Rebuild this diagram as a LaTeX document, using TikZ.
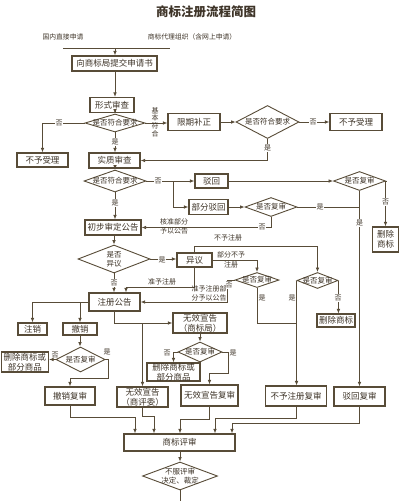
\documentclass[tikz,border=0pt]{standalone}
\usepackage{fontspec}
\newfontfamily\cjk{Noto Sans CJK SC}
\usetikzlibrary{arrows.meta,shapes.geometric}
\definecolor{lc}{RGB}{88,76,56}
\definecolor{tc}{RGB}{62,52,40}
\tikzset{
 box/.style={draw=lc, line width=1.1pt, fill=white, text=tc, inner sep=0pt, align=center, font=\cjk\fontsize{8.5}{10}\selectfont},
 dia/.style={diamond, draw=lc, line width=0.9pt, fill=white, inner sep=0pt},
 dtext/.style={text=tc, inner sep=0pt, align=center, font=\cjk\fontsize{7.5}{9}\selectfont},
 lab/.style={text=tc, inner sep=0.6pt, fill=white, align=center, font=\cjk\fontsize{7}{8.5}\selectfont},
 labn/.style={lab, fill=none},
 con/.style={draw=lc, line width=0.8pt},
 arr/.style={con, -{Latex[length=4.5pt,width=3.6pt]}},
}
\begin{document}
\begin{tikzpicture}[x=1pt,y=-1pt]
\path[use as bounding box, fill=white] (0,0) rectangle (400,501);

\node[font=\cjk\bfseries\fontsize{12.5}{14}\selectfont, text=tc] (title) at (206,12) {商标注册流程简图};
\node[font=\cjk\fontsize{6.8}{8}\selectfont, text=tc] (src1) at (63,37) {国内直接申请};
\node[font=\cjk\fontsize{6.8}{8}\selectfont, text=tc] (src2) at (192,37) {商标代理组织（含网上申请）};
\coordinate (hl) at (63,48); \coordinate (hr) at (170,48); \coordinate (hm) at (115,48);
\draw[con] (hl) -- (hr);
\node[box, minimum width=85, minimum height=15] (b1) at (114.5,63.5) {向商标局提交申请书};
\draw[arr] (hm) -- (hm |- b1.north);
\node[box, minimum width=44, minimum height=15] (b2) at (112,105) {形式审查};
\draw[arr] (hm |- b1.south) -- (hm |- b2.north);
\node[dia, minimum width=60, minimum height=18, label={[dtext]center:是否符合要求}] (d1) at (115,123) {};
\draw[arr] (hm |- b2.south) -- (d1.north);
\node[box, minimum width=51, minimum height=14] (n1) at (42.5,160) {不予受理};
\draw[arr] (d1.west) -| (n1.north);
\node[box, minimum width=52, minimum height=17] (r1) at (194,122) {限期补正};
\draw[arr] (d1.east) -- (d1.east -| r1.west);
\node[dia, minimum width=63, minimum height=33, label={[dtext]center:是否符合要求}] (d2) at (267.5,122) {};
\draw[arr] (r1.east) -- (d2.west);
\node[box, minimum width=52, minimum height=17] (n2) at (356,122) {不予受理};
\draw[arr] (d2.east) -- (n2.west);
\node[box, minimum width=51, minimum height=15] (b3) at (114.5,160.5) {实质审查};
\draw[arr] (d1.south) -- (d1.south |- b3.north);
\draw[arr] (d2.south) |- (b3.east);
\node[dia, minimum width=62, minimum height=22, label={[dtext]center:是否符合要求}] (d3) at (115,181) {};
\draw[arr] (d1.south |- b3.south) -- (d3.north);
\coordinate (j1) at (173,181);
\node[box, minimum width=33, minimum height=14] (r2) at (211.5,181) {驳回};
\draw[arr] (d3.east) -- (r2.west);
\node[box, minimum width=39, minimum height=15] (r3) at (208.5,207) {部分驳回};
\draw[arr] (j1) |- (r3.west);
\node[dia, minimum width=52, minimum height=19, label={[dtext]center:是否复审}] (d4) at (271,207) {};
\draw[arr] (r3.east) -- (d4.west);
\node[box, minimum width=56, minimum height=15] (b4) at (113,227.5) {初步审定公告};
\draw[arr] (d3.south) -- (d3.south |- b4.north);
\draw[arr] (d4.south) |- (b4.east);
\node[dia, minimum width=52, minimum height=19, label={[dtext]center:是否复审}] (d5) at (359.5,181) {};
\draw[arr] (r2.east) -- (r2.east -| d5.west);
\node[box, minimum width=26, minimum height=25] (n3) at (385.5,239.5) {删除\\商标};
\draw[arr] (d5.east) -| (n3.north);
\node[box, minimum width=51, minimum height=19] (r9) at (359.5,396.5) {驳回复审};
\draw[arr] (d5.south) -- (d5.south |- r9.north);
\draw[con] (d4.east) -- (d4.east -| d5.south);

\node[dia, minimum width=72, minimum height=28, label={[dtext]center:{是否\\异议}}] (d6) at (114,259) {};
\draw[arr] (b4.south -| d6.north) -- (d6.north);
\node[box, minimum width=35, minimum height=14] (r4) at (194.5,260) {异议};
\draw[arr] (d6.east) -- (d6.east -| r4.west);
\node[box, minimum width=51, minimum height=18] (b5) at (114.5,302) {注册公告};
\draw[arr] (d6.south) -- (d6.south |- b5.north);
\coordinate (c1) at (126,287);
\draw[arr] (r4.south) |- (c1) -- (c1 |- b5.north);
\node[dia, minimum width=44, minimum height=15, label={[dtext]center:是否复审}] (d7) at (257,280) {};
\draw[arr] (r4.east) -| (d7.north);
\coordinate (c2) at (227,280);
\draw[arr] (d7.west) -- (c2) |- (b5.east);
\node[dia, minimum width=41, minimum height=16, label={[dtext]center:是否复审}] (d8) at (317.5,280.5) {};
\coordinate (c3) at (195,246);
\draw[arr] (r4.north) -- (r4.north |- c3) -| (d8.north);
\node[box, minimum width=38, minimum height=13] (n4) at (336,320.5) {删除商标};
\draw[arr] (d8.east) -- (d8.east |- n4.north);
\node[box, minimum width=61, minimum height=20] (r8) at (296,396) {不予注册复审};
\draw[arr] (d8.west) -- (d8.west |- r8.north);
\coordinate (c4) at (257,323);
\draw[con] (d7.south) -- (c4) -- (c4 -| d8.west);

\node[box, minimum width=29, minimum height=12] (r5) at (32.5,329) {注销};
\node[box, minimum width=34, minimum height=12] (r6) at (80,329) {撤销};
\draw[arr] (b5.west) -| (r5.north);
\draw[arr] (b5.west -| r6.north) -- (r6.north);
\node[box, minimum width=54, minimum height=20] (r7) at (200,323) {无效宣告\\（商标局）};
\draw[arr] (b5.south) |- (r7.west);
\node[box, minimum width=51, minimum height=20] (r10) at (142.5,397) {无效宣告\\（商评委）};
\draw[arr] (r10.north |- r7.west) -- (r10.north);
\node[dia, minimum width=44, minimum height=20, label={[dtext]center:是否复审}] (d9) at (200,352) {};
\draw[arr] (r7.south) -- (d9.north);
\node[box, minimum width=53, minimum height=18] (r11) at (173.5,372) {删除商标或\\部分商品};
\draw[arr] (d9.west) -| (r11.north);
\node[box, minimum width=57, minimum height=21] (r12) at (209.5,395.5) {无效宣告复审};
\coordinate (c5) at (228,373);
\draw[arr] (d9.east) -| (c5) -| (r12.north);

\node[dia, minimum width=49, minimum height=25, label={[dtext]center:是否复审}] (d10) at (80.5,359.5) {};
\draw[arr] (r6.south) -- (r6.south |- d10.north);
\node[box, minimum width=47, minimum height=20] (r13) at (25,362) {删除商标或\\部分商品};
\draw[arr] (d10.west) -- (d10.west -| r13.east);
\node[box, minimum width=50, minimum height=18] (r14) at (70,396) {撤销复审};
\coordinate (c6) at (108,378);
\draw[arr] (d10.east) -| (c6) -| (r14.north);

\node[box, minimum width=111, minimum height=17] (r15) at (179.5,442.5) {商标评审};
\coordinate (e1) at (135,417); \draw[arr] (r14.south) |- (e1) -- (e1 |- r15.north);
\coordinate (e2) at (154,416); \draw[arr] (r10.south) |- (e2) -- (e2 |- r15.north);
\coordinate (e3) at (180,419); \draw[arr] (r12.south) |- (e3) -- (e3 |- r15.north);
\coordinate (e4) at (215,418); \draw[arr] (r8.south) |- (e4) -- (e4 |- r15.north);
\coordinate (e5) at (232,423); \draw[arr] (r9.south) |- (e5) -- (e5 |- r15.north);

\node[dia, minimum width=75, minimum height=28, label={[dtext]center:{不服评审\\决定、裁定}}] (d11) at (180,476) {};
\draw[arr] (r15.south -| d11.north) -- (d11.north);
\coordinate (end) at (180,501);
\draw[con] (d11.south) -- (end);

% labels
\node[lab] (l1) at (59,123) {否};
\node[labn, font=\cjk\fontsize{7}{7.6}\selectfont] (l2) at (155,122) {基\\本\\符\\合};
\node[lab] (l3) at (313,122) {否};
\node[lab] (l4) at (267.5,148) {是};
\node[lab] (l5) at (115,142) {是};
\node[lab] (l6) at (158,181) {否};
\node[lab] (l7) at (262,227.5) {否};
\node[labn, font=\cjk\fontsize{7}{9}\selectfont] (l8) at (174,226) {核准部分\\予以公告};
\node[lab] (l9) at (115,203) {是};
\node[lab] (l10) at (320,207) {是};
\node[lab] (l11) at (385.5,202) {否};
\node[lab] (l12) at (359.5,223) {是};
\node[lab] (l13) at (162,260) {是};
\node[lab] (l14) at (114,283) {否};
\node[labn] (l15) at (162,282) {准予注册};
\node[labn, font=\cjk\fontsize{7}{10.5}\selectfont] (l16) at (231,260) {部分不予\\注册};
\node[lab] (l17) at (229,285) {否};
\node[labn, font=\cjk\fontsize{7}{9}\selectfont] (l18) at (209,293.5) {准予注册部\\分予以公告};
\node[labn] (l19) at (228,238) {不予注册};
\node[lab] (l20) at (338,298) {否};
\node[labn] (l21) at (292,298) {是};
\node[labn] (l22) at (262,298) {是};
\node[labn] (l23) at (167,353) {否};
\node[labn] (l24) at (233,353) {是};
\node[labn] (l25) at (55,355) {否};
\node[labn] (l26) at (107,352) {是};
\end{tikzpicture}
\end{document}
